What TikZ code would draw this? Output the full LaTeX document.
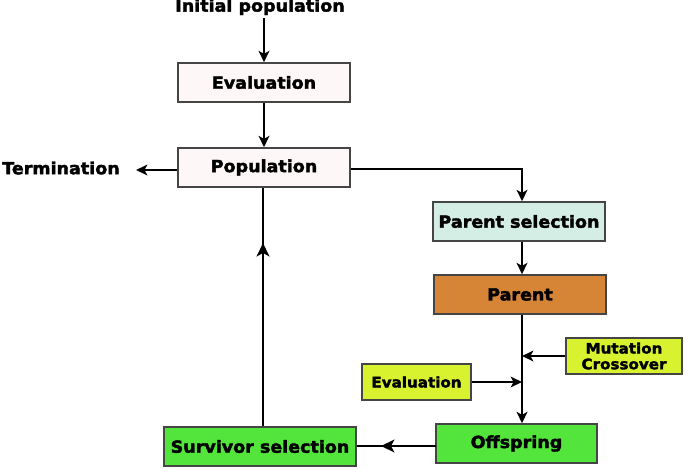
\documentclass[tikz,border=0pt]{standalone}
\usepackage{fontspec}
\setmainfont{DejaVu Sans}[FakeStretch=1.05, BoldFeatures={FakeBold=2.2}]
\usetikzlibrary{arrows.meta}
\definecolor{pinkw}{HTML}{FDF8F7}
\definecolor{mint}{HTML}{D5EEE5}
\definecolor{orng}{HTML}{D68536}
\definecolor{lime}{HTML}{D8F22F}
\definecolor{grn}{HTML}{53E53B}
\definecolor{edge}{HTML}{454545}
\tikzset{
  box/.style={draw=edge, line width=1.1pt, inner sep=0pt, align=center,
    font=\fontsize{12.5}{13.5}\selectfont\bfseries},
  smallbox/.style={box, font=\fontsize{10.8}{11.8}\selectfont\bfseries},
  lbl/.style={inner sep=0pt, font=\fontsize{12.5}{13.5}\selectfont\bfseries},
  conn/.style={line width=1.5pt, black},
  arr/.style={conn, -{Stealth[length=8.5pt, width=8pt, inset=2.2pt]}},
  bigarr/.style={line width=2.2pt, -{Stealth[length=10pt, width=9.5pt, inset=2.5pt]}},
}
\begin{document}
\begin{tikzpicture}[x=0.75pt, y=-0.75pt]
\useasboundingbox (0,0) rectangle (685,468);
\node[lbl] (init) at (260,7) {Initial population};
\node[box, fill=pinkw, minimum width=129pt, minimum height=29.25pt] (ev1) at (264,82.5) {Evaluation};
\node[box, fill=pinkw, minimum width=129pt, minimum height=29.25pt] (pop) at (264,167.5) {Population};
\node[lbl] (term) at (61,168) {Termination};
\node[box, fill=mint, minimum width=129pt, minimum height=29.25pt] (psel) at (519,221.5) {Parent selection};
\node[box, fill=orng, minimum width=129pt, minimum height=29.25pt] (par) at (520,294.5) {Parent};
\node[smallbox, fill=lime, minimum width=87pt, minimum height=27pt] (mut) at (624,356) {Mutation\\Crossover};
\node[smallbox, fill=lime, minimum width=81.75pt, minimum height=27pt] (ev2) at (416.5,382) {Evaluation};
\node[box, fill=grn, minimum width=120.75pt, minimum height=29.25pt] (off) at (516.5,443.5) {Offspring};
\node[box, fill=grn, minimum width=144pt, minimum height=29.25pt] (surv) at (260,446.5) {Survivor selection};

\coordinate (initb) at (264,18);
\coordinate (termtip) at (136,170);
\coordinate (spine) at (522,0);
\coordinate (upa) at (263,360);
\coordinate (upb) at (263,243);
\coordinate (lefta) at (436,446);
\coordinate (leftb) at (381,446);

\draw[arr] (initb) -- (ev1.north -| initb);
\draw[arr] (ev1.south -| initb) -- (pop.north -| initb);
\draw[arr] (pop.west |- termtip) -- (termtip);
\draw[arr] (pop.east |- 0,169) -| (psel.north -| spine);
\draw[arr] (psel.south -| spine) -- (par.north -| spine);
\draw[arr] (par.south -| spine) -- (off.north -| spine);
\draw[arr] (mut.west) -- (mut.west -| spine);
\draw[arr] (ev2.east) -- (ev2.east -| spine);
\draw[conn] (off.west |- lefta) -- (surv.east |- lefta);
\draw[bigarr] (lefta) -- (leftb);
\draw[conn] (surv.north -| upa) -- (pop.south -| upa);
\draw[bigarr] (upa) -- (upb);
\end{tikzpicture}
\end{document}
